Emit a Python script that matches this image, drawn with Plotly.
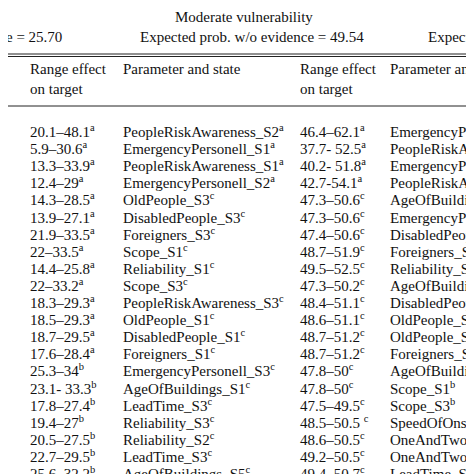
import plotly.graph_objects as go

range_low = ["20.1–48.1<sup>a</sup>","5.9–30.6<sup>a</sup>","13.3–33.9<sup>a</sup>","12.4–29<sup>a</sup>",
 "14.3–28.5<sup>a</sup>","13.9–27.1<sup>a</sup>","21.9–33.5<sup>a</sup>","22–33.5<sup>a</sup>",
 "14.4–25.8<sup>a</sup>","22–33.2<sup>a</sup>","18.3–29.3<sup>a</sup>","18.5–29.3<sup>a</sup>",
 "18.7–29.5<sup>a</sup>","17.6–28.4<sup>a</sup>","25.3–34<sup>b</sup>","23.1- 33.3<sup>b</sup>",
 "17.8–27.4<sup>b</sup>","19.4–27<sup>b</sup>","20.5–27.5<sup>b</sup>","22.7–29.5<sup>b</sup>","25.6–32.2<sup>b</sup>"]
param_low = ["PeopleRiskAwareness_S2<sup>a</sup>","EmergencyPersonell_S1<sup>a</sup>","PeopleRiskAwareness_S1<sup>a</sup>",
 "EmergencyPersonell_S2<sup>a</sup>","OldPeople_S3<sup>c</sup>","DisabledPeople_S3<sup>c</sup>","Foreigners_S3<sup>c</sup>",
 "Scope_S1<sup>c</sup>","Reliability_S1<sup>c</sup>","Scope_S3<sup>c</sup>","PeopleRiskAwareness_S3<sup>c</sup>",
 "OldPeople_S1<sup>c</sup>","DisabledPeople_S1<sup>c</sup>","Foreigners_S1<sup>c</sup>","EmergencyPersonell_S3<sup>c</sup>",
 "AgeOfBuildings_S1<sup>c</sup>","LeadTime_S3<sup>c</sup>","Reliability_S3<sup>c</sup>","Reliability_S2<sup>c</sup>",
 "LeadTime_S3<sup>c</sup>","AgeOfBuildings_S5<sup>c</sup>"]
range_mod = ["46.4–62.1<sup>a</sup>","37.7- 52.5<sup>a</sup>","40.2- 51.8<sup>a</sup>","42.7-54.1<sup>a</sup>",
 "47.3–50.6<sup>c</sup>","47.3–50.6<sup>c</sup>","47.4–50.6<sup>c</sup>","48.7–51.9<sup>c</sup>",
 "49.5–52.5<sup>c</sup>","47.3–50.2<sup>c</sup>","48.4–51.1<sup>c</sup>","48.6–51.1<sup>c</sup>",
 "48.7–51.2<sup>c</sup>","48.7–51.2<sup>c</sup>","47.8–50<sup>c</sup>","47.8–50<sup>c</sup>",
 "47.5–49.5<sup>c</sup>","48.5–50.5 <sup>c</sup>","48.6–50.5<sup>c</sup>","49.2–50.5<sup>c</sup>","49.4–50.7<sup>c</sup>"]
param_mod = ["EmergencyPersonell_S2<sup>a</sup>","PeopleRiskAwareness_S2<sup>a</sup>","EmergencyPersonell_S1<sup>a</sup>",
 "PeopleRiskAwareness_S1<sup>a</sup>","AgeOfBuildings_S2<sup>c</sup>","EmergencyPersonell_S3<sup>c</sup>",
 "DisabledPeople_S3<sup>b</sup>","Foreigners_S1<sup>b</sup>","Reliability_S1<sup>b</sup>","AgeOfBuildings_S4<sup>b</sup>",
 "DisabledPeople_S1<sup>b</sup>","OldPeople_S1<sup>b</sup>","OldPeople_S3<sup>b</sup>","Foreigners_S3<sup>b</sup>",
 "AgeOfBuildings_S1<sup>b</sup>","Scope_S1<sup>b</sup>","Scope_S3<sup>b</sup>","SpeedOfOnset_S1<sup>c</sup>",
 "OneAndTwoStoreys_S1<sup>c</sup>","OneAndTwoStoreys_S3<sup>c</sup>","LeadTime_S3<sup>c</sup>"]

W = H = 474
FONT = dict(family="Liberation Serif", size=15, color="#111")
fig = go.Figure()
ann = []
def t(x, y, s, anchor="left", yanchor="middle"):
    ann.append(dict(x=x / W, y=1 - y / H, xref="paper", yref="paper", text=s, showarrow=False,
                    xanchor=anchor, yanchor=yanchor, align="left", font=FONT))

t(236, 9, "Moderate vulnerability", "center")
t(-4, 29, "e = 25.70")
t(130, 29, "Expected prob. w/o evidence = 49.54")
t(418, 29, "Expected")
for x, lines in [(20, "Range effect<br>on target"), (113, "Parameter and state"), (290, "Range effect<br>on target"), (380, "Parameter and state")]:
    t(x, 51, lines, yanchor="top")
y0, dy = 123, 17.1
for i in range(len(range_low)):
    y = y0 + i * dy
    t(20, y, range_low[i]); t(113, y, param_low[i]); t(290, y, range_mod[i]); t(380, y, param_mod[i])

def hl(y, w):
    return dict(type="line", xref="paper", yref="paper", x0=0, x1=1, y0=1 - y / H, y1=1 - y / H,
                line=dict(color="#222", width=w))
shapes = [hl(46, 1.2), hl(48.5, 1.2), hl(98, 1)]
fig.update_layout(width=W, height=H, margin=dict(l=0, r=0, t=0, b=0, autoexpand=False),
    paper_bgcolor="white", plot_bgcolor="white", annotations=ann, shapes=shapes, showlegend=False,
    xaxis=dict(visible=False), yaxis=dict(visible=False))
fig.write_html("out.html", config=dict(displayModeBar=False))
